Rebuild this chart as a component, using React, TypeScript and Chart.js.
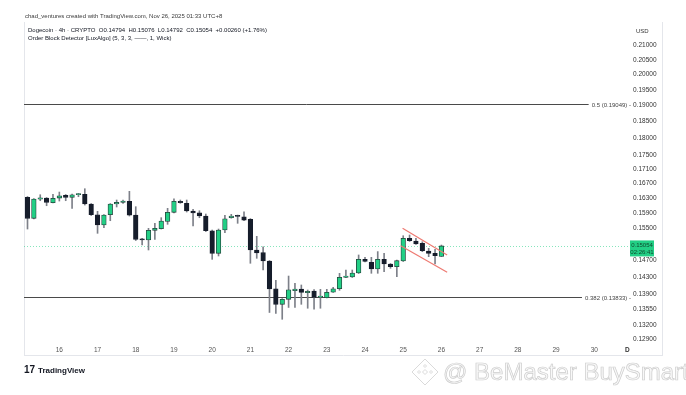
import React, { useEffect, useRef } from "react";
import { Chart, registerables } from "chart.js";

Chart.register(...registerables);

// ---- data (4h candles, index 0 = Nov 16 00:00, UTC+8) ----
const startIndex = -5;
const opens = [
  0.16317, 0.15759, 0.16271, 0.16298, 0.16172, 0.16298, 0.16372, 0.16317, 0.16388, 0.16399,
  0.16137, 0.15853, 0.15585, 0.15853, 0.16137, 0.16183, 0.1621, 0.15845, 0.15235, 0.15202,
  0.15449, 0.1549, 0.1568, 0.15917, 0.1621, 0.16156, 0.15951, 0.15906, 0.15819, 0.15438,
  0.14871, 0.15456, 0.15775, 0.15811, 0.15801, 0.15732, 0.14953, 0.14886, 0.14682, 0.14023,
  0.13665, 0.13779, 0.13977, 0.14016, 0.13931, 0.1397, 0.13825, 0.13816, 0.13942, 0.14023,
  0.14291, 0.14298, 0.14393, 0.14724, 0.14651, 0.14489, 0.14724, 0.1461, 0.14545, 0.14682,
  0.15245, 0.15177, 0.15119, 0.14928, 0.14871, 0.14794,
];
const highs = [
  0.16339, 0.16285, 0.16388, 0.16312, 0.16399, 0.16461, 0.16394, 0.16407, 0.16426, 0.16552,
  0.1615, 0.15943, 0.15858, 0.1615, 0.16245, 0.16245, 0.16481, 0.16066, 0.15248, 0.155,
  0.15629, 0.15776, 0.16023, 0.16279, 0.16245, 0.16245, 0.15996, 0.15959, 0.15872, 0.15456,
  0.15482, 0.15837, 0.15864, 0.15845, 0.15932, 0.15753, 0.15296, 0.1503, 0.14694, 0.1422,
  0.13795, 0.14321, 0.1415, 0.1411, 0.13993, 0.14005, 0.14009, 0.14009, 0.14056, 0.14386,
  0.14465, 0.14465, 0.1483, 0.14772, 0.14772, 0.14913, 0.14871, 0.14622, 0.14706, 0.15311,
  0.15329, 0.15245, 0.15159, 0.14995, 0.1497, 0.15076,
];
const lows = [
  0.15482, 0.15741, 0.16226, 0.16092, 0.16164, 0.16217, 0.16226, 0.16023, 0.16334, 0.1611,
  0.15832, 0.15372, 0.15515, 0.15697, 0.16058, 0.16156, 0.15819, 0.1519, 0.15077, 0.14953,
  0.1522, 0.15482, 0.15603, 0.15898, 0.16156, 0.15925, 0.15559, 0.15775, 0.15417, 0.14723,
  0.14805, 0.15387, 0.15762, 0.15629, 0.15701, 0.14627, 0.14748, 0.14464, 0.13481, 0.13463,
  0.1333, 0.13594, 0.13594, 0.13665, 0.13576, 0.13553, 0.13576, 0.1381, 0.13935, 0.13986,
  0.14282, 0.14286, 0.14381, 0.14658, 0.14386, 0.14386, 0.14425, 0.14506, 0.14305, 0.1467,
  0.15165, 0.1509, 0.14911, 0.14788, 0.1461, 0.14792,
];
const closes = [
  0.15759, 0.16271, 0.16298, 0.16183, 0.1629, 0.16361, 0.16317, 0.16388, 0.16399, 0.16137,
  0.15853, 0.15585, 0.15845, 0.16137, 0.16183, 0.16191, 0.15845, 0.1522, 0.15202, 0.15449,
  0.155, 0.15688, 0.15917, 0.1621, 0.16172, 0.15951, 0.15898, 0.15819, 0.15438, 0.14871,
  0.15456, 0.15749, 0.15819, 0.15806, 0.15714, 0.14953, 0.14878, 0.14682, 0.14016, 0.13665,
  0.13781, 0.14, 0.14016, 0.13935, 0.13963, 0.1382, 0.13827, 0.13942, 0.14023, 0.14291,
  0.14314, 0.14393, 0.14724, 0.14675, 0.14489, 0.14724, 0.1461, 0.14545, 0.1469, 0.15245,
  0.15185, 0.15102, 0.14936, 0.14871, 0.14811, 0.15054,
];

const dayLabels = ["16", "17", "18", "19", "20", "21", "22", "23", "24", "25", "26", "27", "28", "29", "30"];
const candlesPerDay = 6;
const priceTicks = [
  0.21, 0.205, 0.2, 0.195, 0.19, 0.185, 0.18, 0.175, 0.171, 0.167, 0.163, 0.159, 0.155, 0.147,
  0.143, 0.139, 0.1355, 0.132, 0.129,
];
const fibRatios = ["0.5", "0.382"];
const fibPrices = [0.19049, 0.13833];
const lastPrice = 0.15054;
const countdown = "02:26:41";
const upperChannelX = [53.9, 60.9];
const upperChannelY = [0.155, 0.14829];
const lowerChannelX = [53.6, 60.9];
const lowerChannelY = [0.15059, 0.1441];

const GREEN = "#22cf85";
const DARK = "#161d2b";
const FONT = '"Liberation Sans", Arial, sans-serif';

const overlayPlugin = {
  id: "overlay",
  beforeDatasetsDraw(chart: any) {
    const { ctx, chartArea: ca, scales } = chart;
    const ys = scales.y;
    ctx.save();
    // panel frame
    ctx.strokeStyle = "#e4e6eb";
    ctx.lineWidth = 1;
    ctx.beginPath();
    ctx.moveTo(24.5, 22);
    ctx.lineTo(24.5, 356);
    ctx.moveTo(24, 355.5);
    ctx.lineTo(663, 355.5);
    ctx.moveTo(662.5, 22);
    ctx.lineTo(662.5, 356);
    ctx.stroke();
    // fib levels
    ctx.font = "6px " + FONT;
    ctx.textAlign = "right";
    ctx.textBaseline = "middle";
    fibPrices.forEach((p, k) => {
      const py = Math.round(ys.getPixelForValue(p)) + 0.5;
      const text = `${fibRatios[k]} (${p.toFixed(5)}) -`;
      const tw = ctx.measureText(text).width;
      const tx = 631;
      ctx.strokeStyle = "#4a4a4a";
      ctx.lineWidth = 1;
      ctx.beginPath();
      ctx.moveTo(ca.left, py);
      ctx.lineTo(tx - tw - 3, py);
      ctx.stroke();
      ctx.fillStyle = "#444";
      ctx.fillText(text, tx, py + 0.5);
    });
    // last price dotted line
    const ly = Math.round(ys.getPixelForValue(lastPrice)) + 0.5;
    ctx.strokeStyle = "rgba(34,207,133,0.55)";
    ctx.setLineDash([1, 2]);
    ctx.beginPath();
    ctx.moveTo(ca.left, ly);
    ctx.lineTo(ca.right, ly);
    ctx.stroke();
    ctx.setLineDash([]);
    ctx.restore();
  },
  afterDraw(chart: any) {
    const { ctx, scales } = chart;
    const ys = scales.y;
    ctx.save();
    // header
    ctx.textAlign = "left";
    ctx.textBaseline = "middle";
    ctx.fillStyle = "#3a3a3a";
    ctx.font = "6px " + FONT;
    ctx.fillText("chad_ventures created with TradingView.com, Nov 26, 2025 01:33 UTC+8", 25, 16.5);
    ctx.fillStyle = "#131722";
    ctx.fillText(
      "Dogecoin · 4h · CRYPTO  O0.14794  H0.15076  L0.14792  C0.15054  +0.00260 (+1.76%)",
      28,
      30
    );
    ctx.fillText("Order Block Detector [LuxAlgo] (5, 3, 3, ——, 1, Wick)", 28, 38.5);
    // USD
    ctx.fillStyle = "#333";
    ctx.fillText("USD", 636, 31);
    // D label
    ctx.font = "bold 6.5px " + FONT;
    ctx.fillText("D", 625, 350);
    // last price label box
    const ly = ys.getPixelForValue(lastPrice);
    ctx.fillStyle = GREEN;
    ctx.fillRect(630, ly - 5.5, 24, 16);
    ctx.fillStyle = "#0e4a2f";
    ctx.font = "6px " + FONT;
    ctx.textAlign = "center";
    ctx.fillText(lastPrice.toFixed(5), 642, ly - 0.5);
    ctx.fillText(countdown, 642, ly + 6);
    // footer logo
    ctx.textAlign = "left";
    ctx.fillStyle = "#131722";
    ctx.font = "bold 10px " + FONT;
    ctx.fillText("17", 24, 370);
    ctx.font = "bold 8px " + FONT;
    ctx.fillText("TradingView", 38, 370.5);
    // watermark
    ctx.strokeStyle = "#dadada";
    ctx.lineWidth = 1;
    const cx = 425, cy = 372, r = 13;
    ctx.beginPath();
    ctx.moveTo(cx, cy - r);
    ctx.lineTo(cx + r, cy);
    ctx.lineTo(cx, cy + r);
    ctx.lineTo(cx - r, cy);
    ctx.closePath();
    ctx.stroke();
    const small = (x: number, y: number, s: number) => {
      ctx.beginPath();
      ctx.moveTo(x, y - s);
      ctx.lineTo(x + s, y);
      ctx.lineTo(x, y + s);
      ctx.lineTo(x - s, y);
      ctx.closePath();
      ctx.stroke();
    };
    small(cx, cy, 2.5);
    small(cx - 6, cy, 1.5);
    small(cx + 6, cy, 1.5);
    small(cx, cy - 6, 1.5);
    ctx.font = "24px " + FONT;
    ctx.fillStyle = "#f8f8f8";
    ctx.strokeStyle = "#cdcdcd";
    ctx.lineWidth = 0.7;
    ctx.fillText("@ BeMaster BuySmart", 443, 373);
    ctx.strokeText("@ BeMaster BuySmart", 443, 373);
    ctx.restore();
  },
};

export default function App() {
  const ref = useRef<HTMLCanvasElement | null>(null);
  useEffect(() => {
    if (!ref.current) return;
    const idx = opens.map((_, k) => startIndex + k);
    const bodyColors = opens.map((o, k) => (closes[k] >= o ? GREEN : DARK));
    const bodyBorders = opens.map((o, k) => (closes[k] >= o ? "#24403a" : DARK));
    const chart = new Chart(ref.current, {
      type: "bar",
      data: {
        datasets: [
          {
            type: "bar",
            data: idx.map((x, k) => ({ x, y: [lows[k], highs[k]] })) as any,
            backgroundColor: "#7d8089",
            barThickness: 1,
            grouped: false,
            order: 3,
          } as any,
          {
            type: "bar",
            data: idx.map((x, k) => ({ x, y: [opens[k], closes[k]] })) as any,
            backgroundColor: bodyColors,
            borderColor: bodyBorders,
            borderWidth: 0.8,
            borderSkipped: false,
            barThickness: 4.6,
            minBarLength: 1.2,
            grouped: false,
            order: 2,
          } as any,
          {
            type: "line",
            data: upperChannelX.map((x, k) => ({ x, y: upperChannelY[k] })) as any,
            borderColor: "#ee7a72",
            borderWidth: 1.2,
            pointRadius: 0,
            order: 1,
          } as any,
          {
            type: "line",
            data: lowerChannelX.map((x, k) => ({ x, y: lowerChannelY[k] })) as any,
            borderColor: "#ee7a72",
            borderWidth: 1.2,
            pointRadius: 0,
            order: 1,
          } as any,
        ],
      },
      options: {
        responsive: false,
        animation: false,
        layout: { padding: { left: 24, top: 22, right: 0, bottom: 38 } },
        plugins: { legend: { display: false }, tooltip: { enabled: false } },
        scales: {
          x: {
            type: "linear",
            min: -5.55,
            max: 89.3,
            offset: false,
            grid: { display: false, drawTicks: false },
            border: { display: false },
            ticks: {
              autoSkip: false,
              maxRotation: 0,
              padding: 3,
              color: "#555",
              font: { size: 6.5, family: FONT },
              callback: (v: any) => dayLabels[Math.round(Number(v) / candlesPerDay)] ?? "",
            },
            afterBuildTicks: (s: any) => {
              s.ticks = dayLabels.map((_, k) => ({ value: k * candlesPerDay }));
            },
            afterFit: (s: any) => {
              s.height = 14;
            },
          },
          y: {
            type: "logarithmic",
            position: "right",
            min: 0.12816,
            max: 0.218225,
            grid: { display: false, drawTicks: false },
            border: { display: false },
            ticks: {
              autoSkip: false,
              padding: 5,
              color: "#333",
              font: { size: 6.5, family: FONT },
              callback: (v: any) => Number(v).toFixed(5),
            },
            afterBuildTicks: (s: any) => {
              s.ticks = priceTicks.map((v) => ({ value: v }));
            },
            afterFit: (s: any) => {
              s.width = 58;
            },
          },
        },
      } as any,
      plugins: [overlayPlugin],
    });
    return () => chart.destroy();
  }, []);
  return (
    <div style={{ position: "fixed", left: 0, top: 0, width: 686, height: 395, background: "#fff" }}>
      <canvas ref={ref} width={686} height={395} style={{ width: 686, height: 395, display: "block" }} />
    </div>
  );
}
